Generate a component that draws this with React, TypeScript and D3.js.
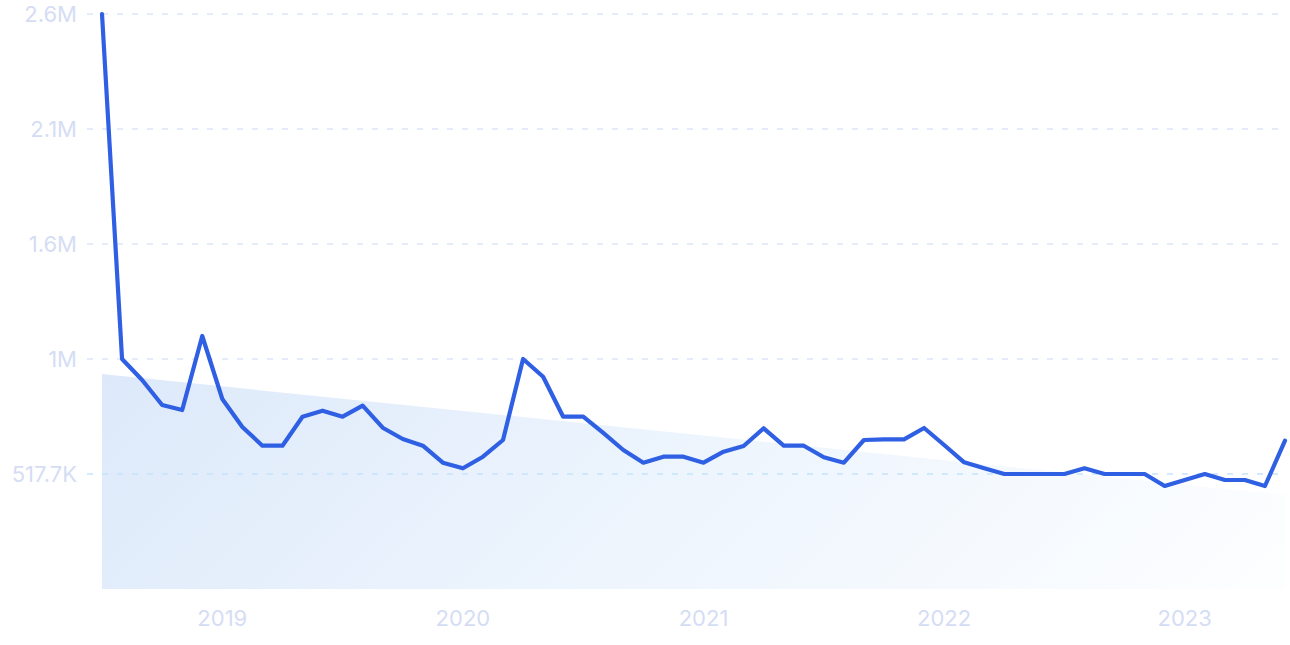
import React from "react";
import * as d3 from "d3";

// Monthly values, Jul 2018 – Jun 2023
const months: string[] = [
  "2018-07","2018-08","2018-09","2018-10","2018-11","2018-12",
  "2019-01","2019-02","2019-03","2019-04","2019-05","2019-06","2019-07","2019-08","2019-09","2019-10","2019-11","2019-12",
  "2020-01","2020-02","2020-03","2020-04","2020-05","2020-06","2020-07","2020-08","2020-09","2020-10","2020-11","2020-12",
  "2021-01","2021-02","2021-03","2021-04","2021-05","2021-06","2021-07","2021-08","2021-09","2021-10","2021-11","2021-12",
  "2022-01","2022-02","2022-03","2022-04","2022-05","2022-06","2022-07","2022-08","2022-09","2022-10","2022-11","2022-12",
  "2023-01","2023-02","2023-03","2023-04","2023-05","2023-06",
];

const values: number[] = [
  2588500, 1035400, 940900, 828300, 805800, 1138900,
  855300, 729300, 645100, 645100, 775700, 802700, 775700, 825200, 726100, 675300, 645100, 568600,
  543400, 595600, 670800, 1035400, 955700, 775700, 775700, 702300, 625700, 568600, 595600, 595600,
  568600, 618100, 643700, 723400, 645100, 645100, 592900, 568600, 670800, 673900, 673900, 724800,
  648200, 570400, 543400, 517700, 517700, 517700, 517700, 543400, 517700, 517700, 517700, 463700,
  490700, 517700, 490700, 490700, 463700, 667600,
];

const yTickValues: number[] = [517700, 1035400, 1553100, 2070800, 2588500];
const yTickLabels: string[] = ["517.7K", "1M", "1.6M", "2.1M", "2.6M"];

const W = 1290;
const H = 645;
const FONT = "Inter, 'Noto Sans', sans-serif";

export default function App() {
  const x = d3.scaleLinear().domain([0, values.length - 1]).range([102, 1285]);
  const y = d3.scaleLinear().domain([0, 2588500]).range([589, 14]);

  // linear regression trend
  const n = values.length;
  const mx = d3.mean(values.map((_, i) => i)) as number;
  const my = d3.mean(values) as number;
  let sxy = 0, sxx = 0;
  values.forEach((v, i) => { sxy += (i - mx) * (v - my); sxx += (i - mx) * (i - mx); });
  const slope = sxy / sxx;
  const intercept = my - slope * mx;
  const trend = [0, n - 1].map((i) => ({ i, v: intercept + slope * i }));

  const area = d3.area<{ i: number; v: number }>()
    .x((d) => x(d.i)).y0(y(0)).y1((d) => y(d.v))(trend) as string;
  const line = d3.line<number>()
    .x((_, i) => x(i)).y((d) => y(d))(values) as string;

  const yearTicks = months
    .map((m, i) => ({ m, i }))
    .filter((d) => d.m.endsWith("-01"));

  const gx1 = x(0), gy1 = y(trend[0].v);

  return (
    <svg width={W} height={H} style={{ position: "fixed", left: 0, top: 0, background: "#fff" }}>
      <defs>
        <linearGradient id="trendFill" gradientUnits="userSpaceOnUse"
          x1={gx1} y1={gy1} x2={gx1 + 700} y2={gy1 + 700}>
          <stop offset="0%" stopColor="#dde9fa" />
          <stop offset="45%" stopColor="#ecf4fd" />
          <stop offset="100%" stopColor="#fdfeff" />
        </linearGradient>
      </defs>
      <path d={area} fill="url(#trendFill)" />
      {yTickValues.map((t, k) => (
        <g key={t}>
          <line x1={87} x2={1283} y1={y(t)} y2={y(t)}
            stroke={k === 0 ? "#c4e3fb" : "#dde5f8"} strokeWidth={1.6} strokeDasharray="6 9" />
          <text x={77} y={y(t)} textAnchor="end" dominantBaseline="central"
            fontFamily={FONT} fontSize={22} fill="#d5ddf5">{yTickLabels[k]}</text>
        </g>
      ))}
      {yearTicks.map((d) => (
        <text key={d.m} x={x(d.i)} y={626} textAnchor="middle"
          fontFamily={FONT} fontSize={22} fill="#d5ddf5">{d.m.slice(0, 4)}</text>
      ))}
      <path d={line} fill="none" stroke="#2f60e4" strokeWidth={4.2} strokeLinejoin="round" strokeLinecap="round" />
    </svg>
  );
}
